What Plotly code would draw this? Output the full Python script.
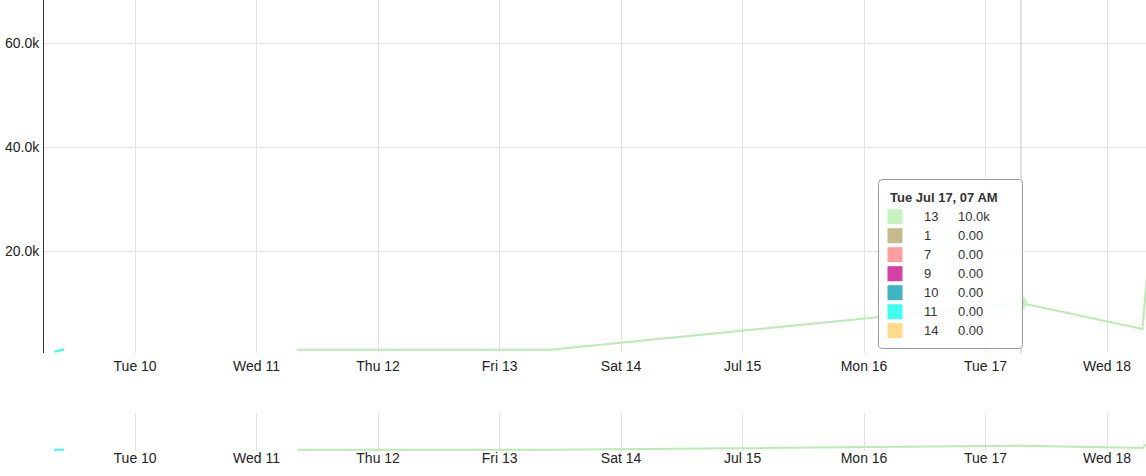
import plotly.graph_objects as go

W, H = 1146, 476
ML = 44

# ---------------- data ----------------
x_range = ["2018-07-09 06:00", "2018-07-18 07:42"]
tick_dates = ["2018-07-10", "2018-07-11", "2018-07-12", "2018-07-13", "2018-07-14",
              "2018-07-15", "2018-07-16", "2018-07-17", "2018-07-18"]
tick_labels = ["Tue 10", "Wed 11", "Thu 12", "Fri 13", "Sat 14",
               "Jul 15", "Mon 16", "Tue 17", "Wed 18"]

y_tickvals = [20000, 40000, 60000]
y_ticktext = ["20.0k", "40.0k", "60.0k"]

s13_time = ["2018-07-11 08:00", "2018-07-13 10:00", "2018-07-17 07:00",
            "2018-07-18 07:00", "2018-07-18 08:00"]
s13_vals = [1000, 1000, 10000, 5000, 16500]

s11_time = ["2018-07-09 08:00", "2018-07-09 10:00"]
s11_vals = [600, 1060]

hover_title = "Tue Jul 17, 07 AM"
hover_time = "2018-07-17 07:00"
hover_value = 10000
legend_names = ["13", "1", "7", "9", "10", "11", "14"]
legend_values = ["10.0k", "0.00", "0.00", "0.00", "0.00", "0.00", "0.00"]
legend_colors = ["#c6f2bf", "#c6b98c", "#ff9e9e", "#d63fa6", "#3fb4c3", "#40fff0", "#ffd98c"]

line_13 = "#b9ecb0"
line_11 = "#2afff0"

FONT = "Liberation Sans, Arial, sans-serif"

# ---------------- geometry helpers ----------------
def px(x):
    return (x - ML) / (W - ML)

def py(y):
    return 1 - y / H

main_dom = [py(353), 1.0]
mini_dom = [py(451), py(413)]

fig = go.Figure()

# main chart
fig.add_trace(go.Scatter(x=s11_time, y=s11_vals, mode="lines",
                         line=dict(color=line_11, width=2), xaxis="x", yaxis="y",
                         hoverinfo="skip"))
fig.add_trace(go.Scatter(x=s13_time, y=s13_vals, mode="lines",
                         line=dict(color=line_13, width=2), xaxis="x", yaxis="y",
                         hoverinfo="skip"))
# mini (range) chart
fig.add_trace(go.Scatter(x=s11_time, y=s11_vals, mode="lines",
                         line=dict(color=line_11, width=2), xaxis="x2", yaxis="y2",
                         hoverinfo="skip"))
fig.add_trace(go.Scatter(x=s13_time, y=s13_vals, mode="lines",
                         line=dict(color=line_13, width=2), xaxis="x2", yaxis="y2",
                         hoverinfo="skip"))
# highlighted point
fig.add_trace(go.Scatter(x=[hover_time], y=[hover_value], mode="markers",
                         marker=dict(color="rgba(190,238,182,0.85)", size=13, line=dict(width=0)),
                         xaxis="x", yaxis="y", hoverinfo="skip"))

xaxis_common = dict(
    type="date", range=x_range, tickmode="array", tickvals=tick_dates, ticktext=tick_labels,
    showgrid=True, gridcolor="#e3e3e3", gridwidth=1, zeroline=False, showline=False,
    ticks="", tickfont=dict(family=FONT, size=14, color="#222"),
)

fig.update_layout(
    width=W, height=H,
    margin=dict(l=ML, r=0, t=0, b=0, pad=0),
    plot_bgcolor="white", paper_bgcolor="white",
    showlegend=False,
    hovermode=False,
    xaxis=dict(**xaxis_common, anchor="y", ticklabelstandoff=3),
    yaxis=dict(domain=main_dom, range=[385, 68270], tickmode="array",
               tickvals=y_tickvals, ticktext=y_ticktext,
               showgrid=True, gridcolor="#e3e3e3", gridwidth=1, zeroline=False,
               showline=True, linecolor="#333", linewidth=1, ticks="",
               tickfont=dict(family=FONT, size=14, color="#222"), ticklabelstandoff=1),
    xaxis2=dict(**xaxis_common, anchor="y2", ticklabelstandoff=-3),
    yaxis2=dict(domain=mini_dom, range=[-2000, 85000], showgrid=False, zeroline=False,
                showline=False, showticklabels=False, ticks=""),
)

shapes = []
# crosshair at hovered time
shapes.append(dict(type="line", xref="x", yref="paper", x0=hover_time, x1=hover_time,
                   y0=main_dom[0], y1=1, line=dict(color="#c4c4c4", width=1), layer="above"))

# tooltip box (rounded rect)
bx0, bx1, by0, by1 = 878.5, 1022.5, 179.5, 348.5
r = 4
def P(x, y):
    return f"{px(x):.6f},{py(y):.6f}"
path = (f"M {P(bx0 + r, by0)} L {P(bx1 - r, by0)} Q {P(bx1, by0)} {P(bx1, by0 + r)} "
        f"L {P(bx1, by1 - r)} Q {P(bx1, by1)} {P(bx1 - r, by1)} "
        f"L {P(bx0 + r, by1)} Q {P(bx0, by1)} {P(bx0, by1 - r)} "
        f"L {P(bx0, by0 + r)} Q {P(bx0, by0)} {P(bx0 + r, by0)} Z")
shapes.append(dict(type="path", xref="paper", yref="paper", path=path,
                   fillcolor="rgba(255,255,255,0.88)", line=dict(color="#9a9a9a", width=1),
                   layer="above"))

annotations = []
annotations.append(dict(xref="paper", yref="paper", x=px(888), y=py(197), xanchor="left",
                        yanchor="middle", showarrow=False,
                        text=f"<b>{hover_title}</b>",
                        font=dict(family=FONT, size=13, color="#333")))
row0, step = 216.7, 19
for i, (n, v, c) in enumerate(zip(legend_names, legend_values, legend_colors)):
    yc = row0 + i * step
    shapes.append(dict(type="rect", xref="paper", yref="paper",
                       x0=px(887.5), x1=px(902.5), y0=py(yc - 7.5), y1=py(yc + 7.5),
                       fillcolor=c, line=dict(width=0), layer="above"))
    annotations.append(dict(xref="paper", yref="paper", x=px(921.5), y=py(yc), xanchor="left",
                            yanchor="middle", showarrow=False, text=n,
                            font=dict(family=FONT, size=13, color="#333")))
    annotations.append(dict(xref="paper", yref="paper", x=px(955.5), y=py(yc), xanchor="left",
                            yanchor="middle", showarrow=False, text=v,
                            font=dict(family=FONT, size=13, color="#333")))

fig.update_layout(shapes=shapes, annotations=annotations)

fig.write_html("out.html", config={"displayModeBar": False},
               post_script="document.body.style.margin='0';document.body.style.overflow='hidden';")
